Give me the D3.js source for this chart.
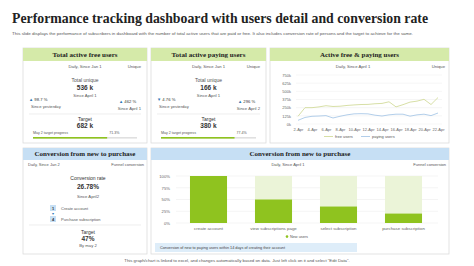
<!DOCTYPE html>
<html>
<head>
<meta charset="utf-8">
<script src="https://cdn.jsdelivr.net/npm/d3@7"></script>
<style>
  body { margin: 0; background: #fff; }
  text { font-family: 'Liberation Sans', Arial, sans-serif; fill: #555; }
  .serif { font-family: 'Liberation Serif', 'Times New Roman', serif; font-weight: bold; fill: #222; }
</style>
</head>
<body>
<div id="vis"></div>
<script>
// data
const days = ['2-Apr','3-Apr','4-Apr','5-Apr','6-Apr','7-Apr','8-Apr','9-Apr','10-Apr','11-Apr','12-Apr',
  '13-Apr','14-Apr','15-Apr','16-Apr','17-Apr','18-Apr','19-Apr','20-Apr','21-Apr','22-Apr'];
const freeUsers = [118,250,250,262,280,268,272,284,292,298,300,310,315,340,262,296,335,350,378,298,405];
const payingUsers = [56,100,118,122,128,92,118,140,155,158,155,135,122,140,150,150,120,140,150,128,168];
const yTicks = [0,125,250,375,500,625,750];

const steps = ['create account','view subscriptions page','select subscription','purchase subscription'];
const stepValues = [100,50,35,20];
const pctTicks = [0,25,50,75,100];

const freeProgress = 71.3;
const payingProgress = 77.4;

const W = 474, H = 266;
const green = '#8fc31f', headGreen = '#d5eaa9', headBlue = '#c6dff4';

const svg = d3.select('#vis').append('svg')
  .attr('width', W).attr('height', H)
  .attr('viewBox', [0, 0, W, H].join(' '));

// title + subtitle
svg.append('text').attr('class', 'serif')
  .attr('x', 12).attr('y', 23)
  .attr('textLength', 416).attr('lengthAdjust', 'spacingAndGlyphs')
  .style('font-size', '15px')
  .text('Performance tracking dashboard with users detail and conversion rate');

svg.append('text')
  .attr('x', 12).attr('y', 35)
  .attr('textLength', 401).attr('lengthAdjust', 'spacingAndGlyphs')
  .style('font-size', '4.3px')
  .text('This slide displays the performance of subscribers in dashboard with the number of total active users that are paid or free. It also includes conversion rate of persons and the target to achieve for the same.');

// helper for a card
function card(x, y, w, h, hh, fill, title) {
  const g = svg.append('g').attr('transform', `translate(${x},${y})`);
  g.append('rect').attr('width', w).attr('height', h)
    .attr('fill', '#fff').attr('stroke', '#dcdcdc').attr('stroke-width', 0.8);
  g.append('rect').attr('width', w).attr('height', hh).attr('fill', fill);
  g.append('text').attr('class', 'serif')
    .attr('x', w / 2).attr('y', hh / 2 + 2.4)
    .attr('text-anchor', 'middle')
    .style('font-size', '7px')
    .text(title);
  return g;
}

function label(g, x, y, txt, size, anchor, color, weight) {
  return g.append('text')
    .attr('x', x).attr('y', y)
    .attr('text-anchor', anchor || 'middle')
    .style('font-size', size + 'px')
    .style('fill', color || '#555')
    .style('font-weight', weight || 'normal')
    .text(txt);
}

// user cards
function userCard(x, w, title, total, left, right, rightSub, target, prog) {
  const g = card(x, 48, w, 95, 13, headGreen, title);
  label(g, w * 0.5, 19.5, 'Daily, Since Jan 1', 4.2);
  label(g, w - 6, 19.5, 'Unique', 4.2, 'end');
  label(g, w / 2, 34, 'Total unique', 5);
  label(g, w / 2, 42, total, 6.5, 'middle', '#333', 'bold');
  label(g, w / 2, 49, 'Since April 1', 4.2);
  const lt = label(g, 6, 53, '', 4.2, 'start', '#333');
  lt.append('tspan').style('fill', '#2e75b6').text(left[0] + ' ');
  lt.append('tspan').text(left[1]);
  label(g, 8, 60, 'Since yesterday', 4.2, 'start');
  const rt = label(g, w - 28, 55, '', 4.2, 'start', '#333');
  rt.append('tspan').style('fill', '#2e75b6').text('▲ ');
  rt.append('tspan').text(right);
  label(g, w - 6, 62, rightSub, 4.2, 'end');
  g.append('line').attr('x1', 6).attr('x2', w - 6).attr('y1', 66).attr('y2', 66)
    .attr('stroke', '#e2e2e2').attr('stroke-width', 0.6);
  label(g, w / 2, 73, 'Target', 5, 'middle', '#333');
  label(g, w / 2, 80, target, 6.5, 'middle', '#333', 'bold');
  label(g, 10, 86, 'May 2 target progress', 3.6, 'start');
  const px = d3.scaleLinear().domain([0, 100]).range([10, w - 10]);
  label(g, px(prog) + 2, 86, prog + '%', 3.6, 'start');
  g.append('rect').attr('x', px(0)).attr('y', 89).attr('width', px(100) - px(0)).attr('height', 1.6).attr('fill', '#e0e0e0');
  g.append('rect').attr('x', px(0)).attr('y', 89).attr('width', px(prog) - px(0)).attr('height', 1.6).attr('fill', green);
}

userCard(23, 124, 'Total active free users', '536 k', ['▲', '98.7 %'], '462 %', 'Since April 1', '682 k', freeProgress);
userCard(151, 115, 'Total active paying users', '166 k', ['▼', '4.76 %'], '296 %', 'Since April 2', '380 k', payingProgress);

// line chart card
{
  const g = card(270, 48, 179, 95, 13, headGreen, 'Active free & paying users');
  label(g, 83, 19.5, 'Daily, Since April 1', 4.2);
  label(g, 175, 19.5, 'Unique', 4.2, 'end');
  const x = d3.scalePoint().domain(days).range([28, 168]);
  const y = d3.scaleLinear().domain([0, 750]).range([76, 27]);
  g.append('g').selectAll('line').data(yTicks).join('line')
    .attr('x1', 26).attr('x2', 172)
    .attr('y1', d => y(d)).attr('y2', d => y(d))
    .attr('stroke', '#ececec').attr('stroke-width', 0.5);
  const ya = g.append('g').attr('transform', 'translate(24,0)')
    .call(d3.axisLeft(y).tickValues(yTicks).tickFormat(d => d + 'k').tickSize(0));
  ya.select('.domain').remove();
  ya.selectAll('text').style('font-size', '4px').style('fill', '#666');
  const xa = g.append('g').attr('transform', 'translate(0,77)')
    .call(d3.axisBottom(x).tickValues(days.filter((d, i) => i % 2 === 0)).tickSize(0));
  xa.select('.domain').remove();
  xa.selectAll('text').style('font-size', '4px').style('fill', '#666');
  const line = d3.line().x((d, i) => x(days[i])).y(d => y(d));
  g.append('path').datum(freeUsers).attr('d', line)
    .attr('fill', 'none').attr('stroke', '#d3db9c').attr('stroke-width', 0.9);
  g.append('path').datum(payingUsers).attr('d', line)
    .attr('fill', 'none').attr('stroke', '#a9c8e8').attr('stroke-width', 0.9);
  // legend
  g.append('line').attr('x1', 54).attr('x2', 63).attr('y1', 88.5).attr('y2', 88.5).attr('stroke', '#d3db9c').attr('stroke-width', 0.9);
  label(g, 65, 90, 'free users', 4, 'start');
  g.append('line').attr('x1', 91).attr('x2', 100).attr('y1', 88.5).attr('y2', 88.5).attr('stroke', '#a9c8e8').attr('stroke-width', 0.9);
  label(g, 102, 90, 'paying users', 4, 'start');
}

// conversion rate card
{
  const w = 124;
  const g = card(23, 148, w, 106, 12, headBlue, 'Conversion from new to purchase');
  label(g, 5, 17.5, 'Daily, Since Jan 2', 4, 'start');
  label(g, w - 3, 17.5, 'Funnel conversion', 4, 'end');
  label(g, w / 2 + 3, 32, 'Conversion rate', 5, 'middle', '#333');
  label(g, w / 2 + 3, 41, '26.78%', 6.5, 'middle', '#333', 'bold');
  label(g, w / 2 + 3, 50, 'Since April2', 4.2);
  [['1', 'Create account', 57], ['4', 'Purchase subscription', 68]].forEach(r => {
    g.append('rect').attr('x', 27).attr('y', r[2]).attr('width', 6).attr('height', 6).attr('fill', '#c6dff4');
    label(g, 30, r[2] + 4.5, r[0], 4, 'middle', '#333', 'bold');
    label(g, 38, r[2] + 4.5, r[1], 4, 'start');
  });
  label(g, 30, 67, '▾', 4, 'middle', '#2e75b6');
  g.append('line').attr('x1', 6).attr('x2', w - 6).attr('y1', 77).attr('y2', 77)
    .attr('stroke', '#e2e2e2').attr('stroke-width', 0.6);
  label(g, w / 2 + 3, 86, 'Target', 5, 'middle', '#333');
  label(g, w / 2 + 3, 93, '47%', 6.5, 'middle', '#333', 'bold');
  label(g, w / 2 + 3, 99, 'By may 2', 4.2);
}

// funnel bar chart card
{
  const w = 298;
  const g = card(151, 148, w, 106, 12, headBlue, 'Conversion from new to purchase');
  label(g, 137, 17.5, 'Daily, Since April 1', 4);
  label(g, w - 3, 17.5, 'Funnel conversion', 4, 'end');
  const x = d3.scaleBand().domain(steps).range([25, 285]).paddingInner(0.43).paddingOuter(0.215);
  const y = d3.scaleLinear().domain([0, 100]).range([75, 28]);
  g.append('g').selectAll('line').data(pctTicks).join('line')
    .attr('x1', 25).attr('x2', 287)
    .attr('y1', d => y(d)).attr('y2', d => y(d))
    .attr('stroke', '#e8e8e8').attr('stroke-width', 0.5);
  const ya = g.append('g').attr('transform', 'translate(22,0)')
    .call(d3.axisLeft(y).tickValues(pctTicks).tickFormat(d => d + '%').tickSize(0));
  ya.select('.domain').remove();
  ya.selectAll('text').style('font-size', '4.2px').style('fill', '#666');
  g.append('g').selectAll('rect').data(steps).join('rect')
    .attr('x', d => x(d)).attr('y', y(100)).attr('width', x.bandwidth())
    .attr('height', y(0) - y(100)).attr('fill', '#ebf4d8');
  g.append('g').selectAll('rect').data(stepValues).join('rect')
    .attr('x', (d, i) => x(steps[i])).attr('y', d => y(d)).attr('width', x.bandwidth())
    .attr('height', d => y(0) - y(d)).attr('fill', green);
  const xa = g.append('g').attr('transform', `translate(0,${y(0) + 1})`)
    .call(d3.axisBottom(x).tickSize(0));
  xa.select('.domain').remove();
  xa.selectAll('text').style('font-size', '4.4px').style('fill', '#666');
  g.append('circle').attr('cx', 136).attr('cy', 88.6).attr('r', 1.3).attr('fill', green);
  label(g, 139, 90, 'New users', 3.8, 'start');
  g.append('rect').attr('x', 4).attr('y', 95).attr('width', 202).attr('height', 9).attr('fill', '#deedf9');
  label(g, 9, 101, 'Conversion of new to paying users within 14 days of creating their account', 3.8, 'start', '#444');
}

// footer
svg.append('text')
  .attr('x', 237).attr('y', 262)
  .attr('text-anchor', 'middle')
  .style('font-size', '4.3px')
  .text('This graph/chart is linked to excel, and changes automatically based on data. Just left click on it and select "Edit Data".');
</script>
</body>
</html>
